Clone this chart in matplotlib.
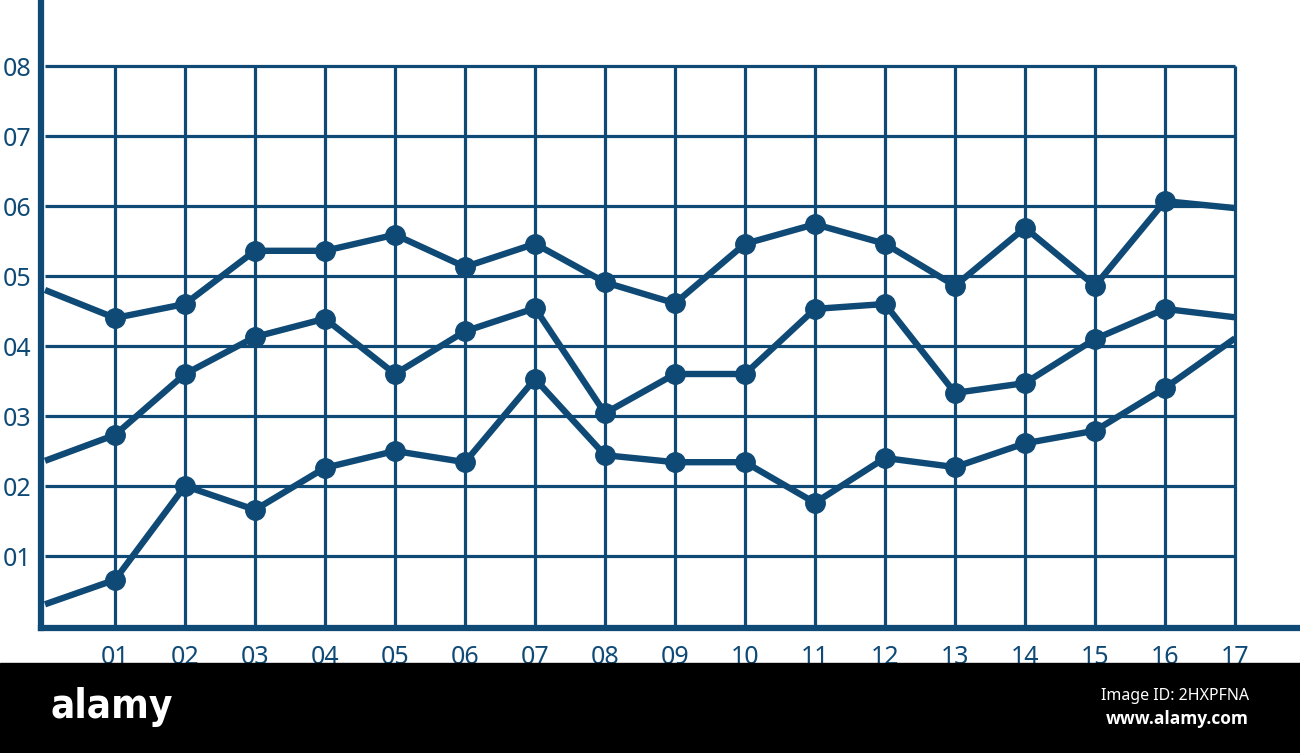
import matplotlib.pyplot as plt
from matplotlib.patches import Rectangle

# values, x positions 0..17
x_vals = list(range(18))
x_labels = ["%02d" % i for i in range(1, 18)]
y_labels = ["%02d" % i for i in range(1, 9)]

top_line = [4.80, 4.40, 4.60, 5.36, 5.36, 5.59, 5.13, 5.46, 4.91, 4.61,
            5.46, 5.74, 5.46, 4.86, 5.69, 4.86, 6.07, 5.97]
mid_line = [2.36, 2.73, 3.60, 4.13, 4.39, 3.60, 4.21, 4.54, 3.04, 3.60,
            3.60, 4.53, 4.60, 3.33, 3.47, 4.10, 4.53, 4.41]
low_line = [0.31, 0.66, 2.00, 1.66, 2.26, 2.50, 2.34, 3.53, 2.44, 2.34,
            2.34, 1.76, 2.40, 2.27, 2.61, 2.79, 3.40, 4.11]

blue = "#0f4a76"

fig = plt.figure(figsize=(13, 7.53), dpi=100)
W, H = 1300, 753

# axes box: left spine at px 41, bottom spine at px 628
ax = fig.add_axes([41 / W, (H - 628) / H, (W - 41) / W, 628 / H])
ax.set_xlim((41 - 45) / 70, (W - 45) / 70)
ax.set_ylim((626 - 628) / 70, 626 / 70)

# grid only inside the 0..17 x 0..8 box
ax.vlines(range(1, 18), 0, 8, color=blue, lw=2.3, zorder=1)
ax.hlines(range(1, 9), 0, 17, color=blue, lw=2.3, zorder=1)

for series in (top_line, mid_line, low_line):
    ax.plot(x_vals, series, color=blue, lw=4.6, zorder=3, solid_capstyle="butt")
    ax.plot(x_vals[1:17], series[1:17], "o", color=blue, ms=14, zorder=4)

for side in ("top", "right"):
    ax.spines[side].set_visible(False)
for side in ("left", "bottom"):
    ax.spines[side].set_color(blue)
    ax.spines[side].set_linewidth(4.5)

ax.set_xticks(range(1, 18))
ax.set_xticklabels(x_labels, family="Noto Sans")
ax.set_yticks(range(1, 9))
ax.set_yticklabels(y_labels, family="Noto Sans")
ax.tick_params(length=0, colors=blue, labelsize=18)
ax.tick_params(axis="x", pad=12)
ax.tick_params(axis="y", pad=7)

# black watermark band at the bottom
fig.patches.append(Rectangle((0, 0), 1, 90 / H, transform=fig.transFigure,
                             color="black", zorder=10))
fig.text(50 / W, 46 / H, "alamy", color="white", fontsize=29, fontweight="bold",
         fontstretch="condensed", ha="left", va="center", zorder=11,
         family="DejaVu Sans")
fig.text(1249 / W, 57 / H, "Image ID: 2HXPFNA", color="white", fontsize=11.5,
         ha="right", va="center", zorder=11, family="Noto Sans")
fig.text(1249 / W, 34 / H, "www.alamy.com", color="white", fontsize=12.5,
         fontweight="bold", ha="right", va="center", zorder=11, family="Open Sans")

fig.savefig("out.png", dpi=100)
